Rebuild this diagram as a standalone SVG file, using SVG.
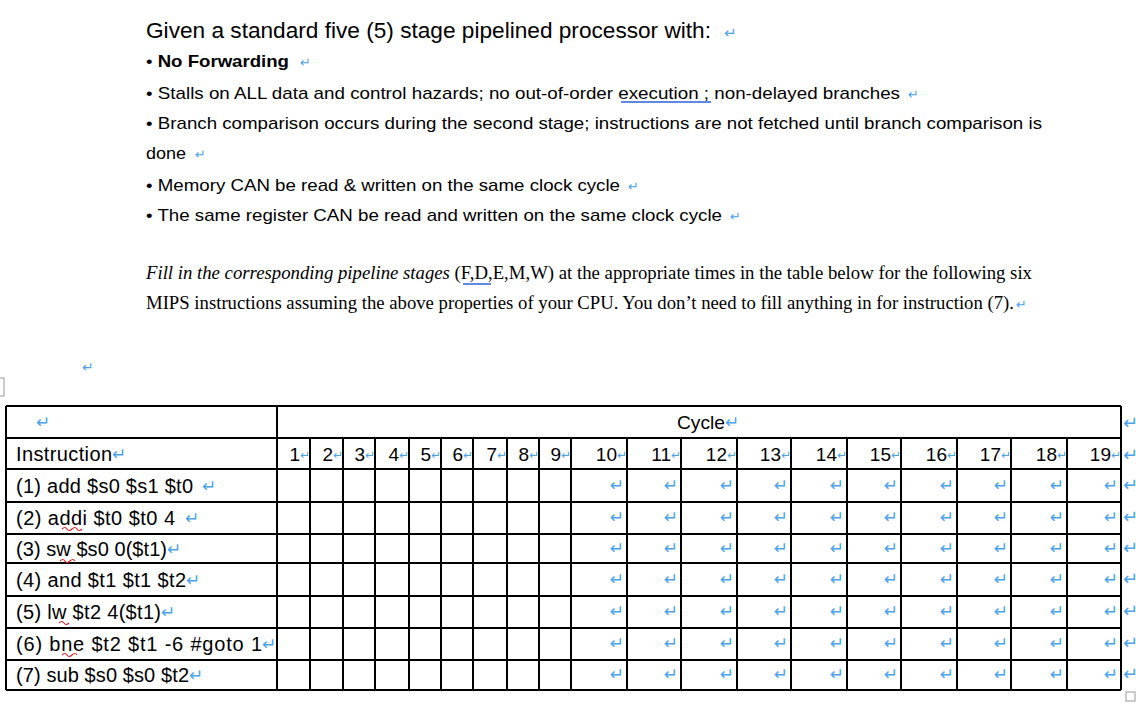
<svg xmlns="http://www.w3.org/2000/svg" width="1136" height="718" viewBox="0 0 1136 718">
<style>
.s{font-family:"Liberation Sans",Arial,sans-serif;fill:#000}
.t{font-family:"Liberation Serif","Times New Roman",serif;font-size:18px;fill:#000}
.m{fill:#4aa3ef;font-family:"DejaVu Sans",sans-serif}
.g{stroke:#000;stroke-width:2;fill:none}
.c{font-family:"Liberation Sans",Arial,sans-serif;font-size:19px;fill:#000}
.r{font-family:"Liberation Sans",Arial,sans-serif;font-size:20px;fill:#000}
</style>
<rect width="1136" height="718" fill="#fff"/>
<g id="text">
<text class="s" x="146" y="38" font-size="22" textLength="565" lengthAdjust="spacingAndGlyphs">Given a standard five (5) stage pipelined processor with:</text>
<text class="m" x="724" y="38" font-size="15">↵</text>
<text class="s" x="146" y="67" font-size="17" textLength="143" lengthAdjust="spacingAndGlyphs">• <tspan font-weight="bold">No Forwarding</tspan></text>
<text class="m" x="300" y="67" font-size="13">↵</text>
<text class="s" x="146" y="99" font-size="17" textLength="754" lengthAdjust="spacingAndGlyphs">• Stalls on ALL data and control hazards; no out-of-order execution ; non-delayed branches</text>
<text class="m" x="908" y="99" font-size="13">↵</text>
<line x1="621" y1="102" x2="711" y2="102" stroke="#2b5fd9" stroke-width="1.5"/>
<text class="s" x="146" y="129" font-size="17" textLength="896" lengthAdjust="spacingAndGlyphs">• Branch comparison occurs during the second stage; instructions are not fetched until branch comparison is</text>
<text class="s" x="146" y="159" font-size="17" textLength="40" lengthAdjust="spacingAndGlyphs">done</text>
<text class="m" x="195" y="159" font-size="13">↵</text>
<text class="s" x="146" y="191" font-size="17" textLength="474" lengthAdjust="spacingAndGlyphs">• Memory CAN be read &amp; written on the same clock cycle</text>
<text class="m" x="628" y="191" font-size="13">↵</text>
<text class="s" x="146" y="221" font-size="17" textLength="576" lengthAdjust="spacingAndGlyphs">• The same register CAN be read and written on the same clock cycle</text>
<text class="m" x="730" y="221" font-size="13">↵</text>
<text class="t" x="146" y="279" textLength="886" lengthAdjust="spacingAndGlyphs"><tspan font-style="italic">Fill in the corresponding pipeline stages</tspan> (F,D,E,M,W) at the appropriate times in the table below for the following six</text>
<line x1="463" y1="284" x2="491" y2="284" stroke="#2b5fd9" stroke-width="1.5"/>
<text class="t" x="146" y="309" textLength="868" lengthAdjust="spacingAndGlyphs">MIPS instructions assuming the above properties of your CPU. You don’t need to fill anything in for instruction (7).</text>
<text class="m" x="1016" y="309" font-size="13">↵</text>
<text class="m" x="82" y="372" font-size="14">↵</text>
<rect x="-1" y="378" width="5" height="18" fill="#fff" stroke="#999"/>
<rect x="1126" y="692" width="9" height="9" fill="#fff" stroke="#999"/>
</g>
<g id="table" class="g">
<path d="M6 406H1121M6 438H1121M6 469H1121M6 502H1121M6 534H1121M6 563H1121M6 596H1121M6 628H1121M6 660H1121M6 690H1121"/>
<path d="M6 406V690M277 406V690M1121 406V690M310 438V690M343 438V690M375 438V690M409 438V690M441 438V690M473 438V690M507 438V690M539 438V690M571 438V690M627 438V690M681 438V690M737 438V690M791 438V690M847 438V690M901 438V690M957 438V690M1011 438V690M1067 438V690"/>
</g>
<g id="labels">
<text class="m" x="36" y="428" font-size="17">↵</text>
<text class="c" x="677" y="429" textLength="48" lengthAdjust="spacingAndGlyphs">Cycle</text><text class="m" x="725" y="428" font-size="17">↵</text>
<g class="r" lengthAdjust="spacingAndGlyphs">
<text x="16" y="461" textLength="96">Instruction</text>
<text x="16" y="493" textLength="177">(1) add $s0 $s1 $t0</text>
<text x="16" y="525" textLength="159">(2) addi $t0 $t0 4</text>
<text x="16" y="556" textLength="151">(3) sw $s0 0($t1)</text>
<text x="16" y="587" textLength="170">(4) and $t1 $t1 $t2</text>
<text x="16" y="619" textLength="145">(5) lw $t2 4($t1)</text>
<text x="16" y="651" textLength="246">(6) bne $t2 $t1 -6 #goto 1</text>
<text x="16" y="682" textLength="173">(7) sub $s0 $s0 $t2</text>
</g>
<g class="m" font-size="17">
<text x="112" y="460">↵</text><text x="202" y="492">↵</text><text x="185" y="524">↵</text><text x="167" y="555">↵</text><text x="186" y="586">↵</text><text x="161" y="618">↵</text><text x="262" y="650">↵</text><text x="189" y="681">↵</text>
</g>
<path d="M62 529q3-3 5 0t5 0t5 0t5 0M60 561q3-3 5 0t5 0t5 0M59 623q3-3 5 0t5 0M62 655q3-3 5 0t5 0t5 0" stroke="#d22" fill="none" stroke-width="1.2"/>
<g text-anchor="end" class="c">
<text x="300" y="461">1</text><text x="333" y="461">2</text><text x="365" y="461">3</text><text x="399" y="461">4</text><text x="431" y="461">5</text><text x="463" y="461">6</text><text x="497" y="461">7</text><text x="529" y="461">8</text><text x="561" y="461">9</text>
<text x="617" y="461">10</text><text x="671" y="461">11</text><text x="727" y="461">12</text><text x="781" y="461">13</text><text x="837" y="461">14</text><text x="891" y="461">15</text><text x="947" y="461">16</text><text x="1001" y="461">17</text><text x="1057" y="461">18</text><text x="1111" y="461">19</text>
</g>
<g class="m" font-size="12" text-anchor="end">
<text x="310" y="459">↵</text><text x="343" y="459">↵</text><text x="375" y="459">↵</text><text x="409" y="459">↵</text><text x="441" y="459">↵</text><text x="473" y="459">↵</text><text x="507" y="459">↵</text><text x="539" y="459">↵</text><text x="571" y="459">↵</text>
<text x="627" y="459">↵</text><text x="681" y="459">↵</text><text x="737" y="459">↵</text><text x="791" y="459">↵</text><text x="847" y="459">↵</text><text x="901" y="459">↵</text><text x="957" y="459">↵</text><text x="1011" y="459">↵</text><text x="1067" y="459">↵</text><text x="1121" y="459">↵</text>
</g>
<g class="m" font-size="17" text-anchor="end">
<text x="624" y="491">↵</text><text x="678" y="491">↵</text><text x="734" y="491">↵</text><text x="788" y="491">↵</text><text x="844" y="491">↵</text><text x="898" y="491">↵</text><text x="954" y="491">↵</text><text x="1008" y="491">↵</text><text x="1064" y="491">↵</text><text x="1118" y="491">↵</text>
<text x="624" y="523">↵</text><text x="678" y="523">↵</text><text x="734" y="523">↵</text><text x="788" y="523">↵</text><text x="844" y="523">↵</text><text x="898" y="523">↵</text><text x="954" y="523">↵</text><text x="1008" y="523">↵</text><text x="1064" y="523">↵</text><text x="1118" y="523">↵</text>
<text x="624" y="554">↵</text><text x="678" y="554">↵</text><text x="734" y="554">↵</text><text x="788" y="554">↵</text><text x="844" y="554">↵</text><text x="898" y="554">↵</text><text x="954" y="554">↵</text><text x="1008" y="554">↵</text><text x="1064" y="554">↵</text><text x="1118" y="554">↵</text>
<text x="624" y="585">↵</text><text x="678" y="585">↵</text><text x="734" y="585">↵</text><text x="788" y="585">↵</text><text x="844" y="585">↵</text><text x="898" y="585">↵</text><text x="954" y="585">↵</text><text x="1008" y="585">↵</text><text x="1064" y="585">↵</text><text x="1118" y="585">↵</text>
<text x="624" y="617">↵</text><text x="678" y="617">↵</text><text x="734" y="617">↵</text><text x="788" y="617">↵</text><text x="844" y="617">↵</text><text x="898" y="617">↵</text><text x="954" y="617">↵</text><text x="1008" y="617">↵</text><text x="1064" y="617">↵</text><text x="1118" y="617">↵</text>
<text x="624" y="649">↵</text><text x="678" y="649">↵</text><text x="734" y="649">↵</text><text x="788" y="649">↵</text><text x="844" y="649">↵</text><text x="898" y="649">↵</text><text x="954" y="649">↵</text><text x="1008" y="649">↵</text><text x="1064" y="649">↵</text><text x="1118" y="649">↵</text>
<text x="624" y="680">↵</text><text x="678" y="680">↵</text><text x="734" y="680">↵</text><text x="788" y="680">↵</text><text x="844" y="680">↵</text><text x="898" y="680">↵</text><text x="954" y="680">↵</text><text x="1008" y="680">↵</text><text x="1064" y="680">↵</text><text x="1118" y="680">↵</text>
</g>
<g class="m" font-size="18" text-anchor="start">
<text x="1123" y="429">↵</text><text x="1123" y="461">↵</text><text x="1123" y="491">↵</text><text x="1123" y="523">↵</text><text x="1123" y="554">↵</text><text x="1123" y="585">↵</text><text x="1123" y="617">↵</text><text x="1123" y="649">↵</text><text x="1123" y="680">↵</text>
</g>
</g>
</svg>
